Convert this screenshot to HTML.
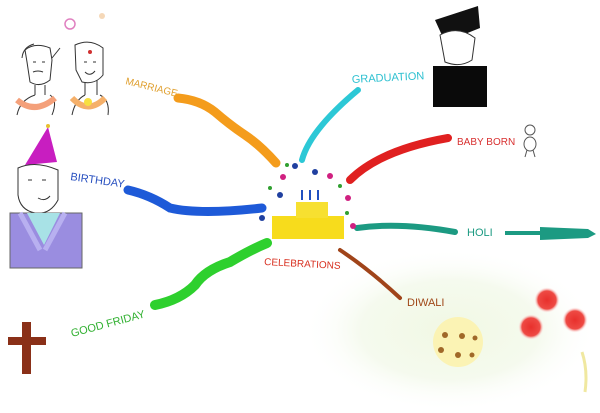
<!DOCTYPE html>
<html><head><style>
html,body{margin:0;padding:0;background:#fff;width:600px;height:413px;overflow:hidden;}
svg{display:block}
text{font-family:"Liberation Sans",sans-serif;}
</style></head><body>
<svg width="600" height="413" viewBox="0 0 600 413" xmlns="http://www.w3.org/2000/svg">
<defs>
<radialGradient id="glow" cx="0.5" cy="0.5" r="0.5">
<stop offset="0" stop-color="#f1f8e4"/><stop offset="0.6" stop-color="#f5faee"/><stop offset="1" stop-color="#fff" stop-opacity="0"/>
</radialGradient>
<radialGradient id="dot"><stop offset="0" stop-color="#e8302c"/><stop offset="0.7" stop-color="#ee4a44"/><stop offset="1" stop-color="#fff" stop-opacity="0"/></radialGradient>
</defs>
<rect width="600" height="413" fill="#fff"/>
<ellipse cx="450" cy="330" rx="148" ry="82" fill="url(#glow)"/>

<!-- Marriage figures -->
<g stroke="#333" stroke-width="1" fill="none">
<path d="M25 50 Q35 42 50 48 L52 60 L50 80 Q40 88 30 82 L27 62 Z"/>
<path d="M34 44 Q23 47 22 58 M60 48 L52 58"/>
<path d="M35 85 L35 95 M45 85 L45 95"/>
<path d="M33 72 Q38 70 43 72 M33 62 H36 M42 62 H45"/>
<path d="M75 45 Q90 38 103 48 L103 75 Q95 85 82 82 L76 70 Z"/>
<path d="M85 72 Q90 77 95 71 M84 62 H87 M93 62 H96"/>
<path d="M85 83 L85 95 M97 80 L97 95"/>
<path d="M17 115 Q20 100 35 95 M50 95 Q58 100 52 115"/>
<path d="M72 115 Q75 100 85 95 M100 95 Q110 100 108 115"/>
</g>
<circle cx="90" cy="52" r="2" fill="#d03030"/>
<path d="M17 100 Q35 115 55 98" stroke="#f4a07a" stroke-width="6" fill="none"/>
<path d="M72 98 Q88 115 105 98" stroke="#f5b06a" stroke-width="6" fill="none"/>
<circle cx="88" cy="102" r="4" fill="#f7e040"/>
<circle cx="70" cy="24" r="5" fill="none" stroke="#e080c0" stroke-width="1.5"/>
<circle cx="102" cy="16" r="3" fill="#f5d8b8"/>

<!-- Birthday person -->
<polygon points="48,127 25,165 57,162" fill="#c81ec0"/>
<circle cx="48" cy="126" r="2" fill="#e8c030"/>
<path d="M18 168 Q35 160 58 170 L58 200 Q50 215 35 213 Q20 210 18 195 Z" fill="#fff" stroke="#333"/>
<path d="M28 180 H32 M42 180 H46 M38 198 Q45 202 50 196" stroke="#333" fill="none"/>
<rect x="10" y="213" width="72" height="55" fill="#9a8de0" stroke="#666"/>
<polygon points="27,213 60,213 44,245" fill="#a8e2e6"/>
<path d="M20 213 L40 250 M65 213 L45 250" stroke="#b8b0f0" stroke-width="5"/>

<!-- branches -->
<path d="M178 98 Q200 100 215 112 Q230 125 245 135 Q260 145 276 163" stroke="#f49c1c" stroke-width="9" fill="none" stroke-linecap="round"/>
<path d="M128 190 Q150 195 170 208 Q200 215 262 208" stroke="#1e5ad8" stroke-width="9" fill="none" stroke-linecap="round"/>
<path d="M155 305 Q180 300 195 285 Q205 270 230 262 Q250 250 267 243" stroke="#2ed02e" stroke-width="10" fill="none" stroke-linecap="round"/>
<path d="M302 160 Q310 130 358 90" stroke="#2cc8d6" stroke-width="6" fill="none" stroke-linecap="round"/>
<path d="M350 180 Q380 150 448 138" stroke="#e02020" stroke-width="8" fill="none" stroke-linecap="round"/>
<path d="M357 228 Q400 222 455 232" stroke="#1c9a82" stroke-width="6" fill="none" stroke-linecap="round"/>
<path d="M505 233 L590 233" stroke="#1c9a82" stroke-width="4"/>
<polygon points="540,227 588,229 596,234 588,238 540,240" fill="#1c9a82"/>
<path d="M340 250 Q370 270 400 298" stroke="#a0441a" stroke-width="4" fill="none" stroke-linecap="round"/>

<!-- cake -->
<rect x="272" y="216" width="72" height="23" fill="#f7dc1c"/>
<rect x="296" y="202" width="32" height="16" fill="#f7e030"/>
<path d="M302 190 V200 M310 190 V200 M318 190 V200" stroke="#2050c0" stroke-width="2"/>
<g fill="#2040a0">
<circle cx="295" cy="166" r="3"/><circle cx="315" cy="172" r="3"/><circle cx="280" cy="195" r="3"/><circle cx="262" cy="218" r="3"/>
</g>
<g fill="#d02080"><circle cx="283" cy="177" r="3"/><circle cx="330" cy="176" r="3"/><circle cx="348" cy="198" r="3"/><circle cx="353" cy="226" r="3"/></g>
<g fill="#30a030"><circle cx="287" cy="165" r="2"/><circle cx="270" cy="188" r="2"/><circle cx="340" cy="186" r="2"/><circle cx="347" cy="213" r="2"/></g>

<!-- graduation -->
<polygon points="435,20 478,6 480,28 445,42" fill="#111"/>
<path d="M440 35 Q458 25 475 38 L472 60 Q460 68 445 62 Z" fill="#fff" stroke="#333"/>
<path d="M450 70 V67 M465 70 V66" stroke="#333"/>
<rect x="433" y="66" width="54" height="41" fill="#0a0a0a"/>

<!-- baby -->
<g stroke="#555" fill="none"><circle cx="530" cy="130" r="5"/><ellipse cx="530" cy="144" rx="6" ry="7"/><path d="M527 150 L525 157 M533 150 L535 157"/></g>

<!-- cross -->
<rect x="22" y="322" width="9" height="52" fill="#8a3018"/>
<rect x="8" y="337" width="38" height="8" fill="#8a3018"/>

<!-- diwali -->
<circle cx="458" cy="342" r="25" fill="#fbf3b4"/>
<g fill="#a06828"><circle cx="445" cy="335" r="3"/><circle cx="462" cy="336" r="3"/><circle cx="475" cy="338" r="2.5"/><circle cx="441" cy="350" r="3"/><circle cx="458" cy="355" r="3"/><circle cx="472" cy="355" r="2.5"/></g>
<circle cx="547" cy="300" r="13" fill="url(#dot)"/>
<circle cx="531" cy="327" r="13" fill="url(#dot)"/>
<circle cx="575" cy="320" r="13" fill="url(#dot)"/>
<path d="M582 352 Q588 370 585 392" stroke="#f0e8a0" stroke-width="3" fill="none"/>

<!-- labels -->
<text x="125" y="84" font-size="10" fill="#e0a030" transform="rotate(14 125 84)">MARRIAGE</text>
<text x="352" y="83" font-size="11" fill="#2cc0d0" transform="rotate(-3 352 83)">GRADUATION</text>
<text x="457" y="145" font-size="10" fill="#d83030">BABY BORN</text>
<text x="70" y="180" font-size="11" fill="#2850c0" transform="rotate(8 70 180)">BIRTHDAY</text>
<text x="467" y="236" font-size="11" fill="#1c9a82">HOLI</text>
<text x="264" y="265" font-size="10" fill="#d83020" transform="rotate(3 264 265)">CELEBRATIONS</text>
<text x="407" y="306" font-size="11" fill="#a04818">DIWALI</text>
<text x="72" y="337" font-size="11" fill="#30b030" transform="rotate(-15 72 337)">GOOD FRIDAY</text>
</svg>
</body></html>
